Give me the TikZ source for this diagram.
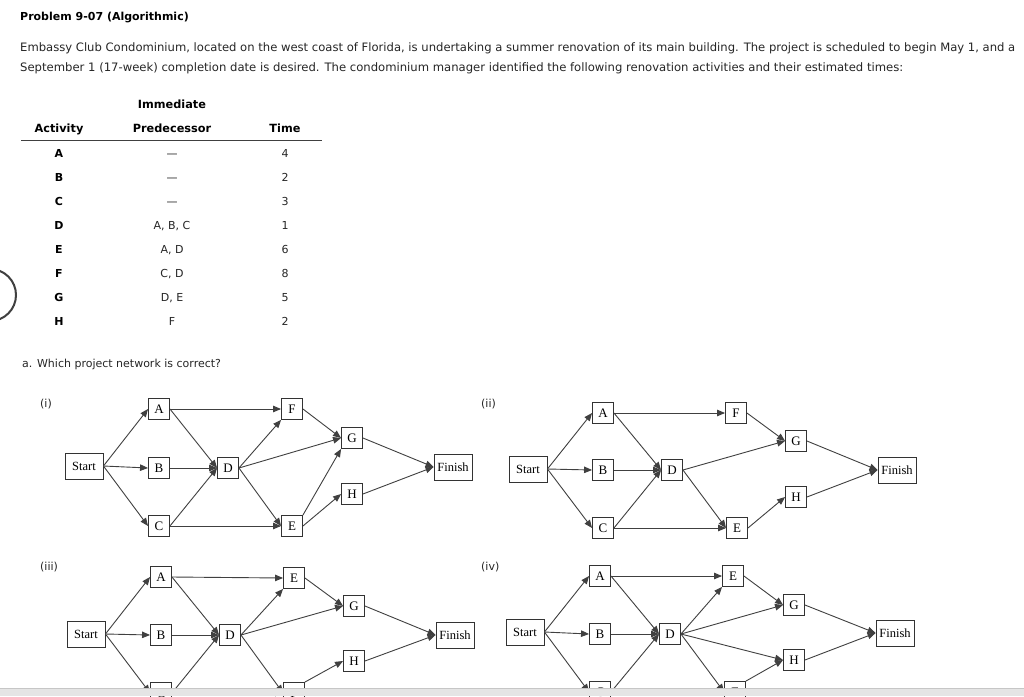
\documentclass[tikz,border=0pt]{standalone}
\usepackage{fontspec}
\setmainfont{DejaVu Sans}
\newfontfamily\boxfont{Liberation Serif}
\usetikzlibrary{arrows.meta}
\begin{document}
\begin{tikzpicture}[x=1pt,y=-1pt,
  txt/.style={anchor=base west, inner sep=0pt, font=\fontsize{11}{13}\selectfont, text=black!85},
  tc/.style={anchor=base, inner sep=0pt, font=\fontsize{11}{13}\selectfont, text=black!85},
  tb/.style={anchor=base, inner sep=0pt, font=\fontsize{11.3}{13}\selectfont\bfseries, text=black},
  act/.style={draw=black!80, fill=white, line width=0.9pt, minimum width=21pt, minimum height=21pt, inner sep=0pt, font=\boxfont\fontsize{13}{13}\selectfont},
  term/.style={act, minimum width=38pt, minimum height=26pt, font=\boxfont\fontsize{12.5}{13}\selectfont},
  arr/.style={draw=black!75, line width=0.9pt, -{Triangle[length=8pt,width=6.5pt]}},
]
\useasboundingbox (0,0) rectangle (1024,696);
\fill[white] (0,0) rectangle (1024,696);
\clip (0,0) rectangle (1024,696);

% header text
\node[txt, font=\fontsize{11}{13}\selectfont\bfseries, text=black] (title) at (20,20) {Problem 9-07 (Algorithmic)};
\node[txt] (l1) at (20,51) {\resizebox{995pt}{!}{Embassy Club Condominium, located on the west coast of Florida, is undertaking a summer renovation of its main building. The project is scheduled to begin May 1, and a}};
\node[txt] (l2) at (20,71) {\resizebox{883pt}{!}{September 1 (17-week) completion date is desired. The condominium manager identified the following renovation activities and their estimated times:}};

% circle at left edge
\draw[black!75, line width=2pt] (-10,295) circle[radius=26pt];

% table
\node[tb] (hImm) at (172,108) {Immediate};
\node[tb] (hAct) at (59,132) {Activity};
\node[tb] (hPre) at (172,132) {Predecessor};
\node[tb] (hTim) at (285,132) {Time};
\draw[black!75, line width=1pt] (21,140.5) -- (322,140.5);
\foreach \a/\p/\t [count=\i] in {A/---/4, B/---/2, C/---/3, D/{A, B, C}/1, E/{A, D}/6, F/{C, D}/8, G/{D, E}/5, H/F/2} {
  \node[tb, font=\fontsize{11}{12}\selectfont\bfseries] (ra\i) at (59,133.5+24*\i) {\a};
  \node[tc] (rp\i) at (172,133.5+24*\i) {\p};
  \node[tc] (rt\i) at (285,133.5+24*\i) {\t};
}
\node[txt] (q) at (22,367) {a. Which project network is correct?};

% labels
\node[txt] (lab1) at (40,407) {(i)};
\node[txt] (lab2) at (481,407) {(ii)};
\node[txt] (lab3) at (40,570) {(iii)};
\node[txt] (lab4) at (481,570) {(iv)};

% network (i)
\node[term] (s1) at (84,466) {Start};
\node[act] (a1) at (159,409) {A};
\node[act] (b1) at (159,468) {B};
\node[act] (c1) at (159,526) {C};
\node[act] (d1) at (228,468) {D};
\node[act] (f1) at (292,409) {F};
\node[act] (e1) at (292,526) {E};
\node[act] (g1) at (352,438) {G};
\node[act] (h1) at (352,494) {H};
\node[term] (z1) at (453,467) {Finish};
\draw[arr] (s1.east) -- (a1.west);
\draw[arr] (s1.east) -- (b1.west);
\draw[arr] (s1.east) -- (c1.west);
\draw[arr] (a1.east) -- (f1.west);
\draw[arr] (a1.east) -- (d1.west);
\draw[arr] (b1.east) -- (d1.west);
\draw[arr] (c1.east) -- (d1.west);
\draw[arr] (c1.east) -- (e1.west);
\draw[arr] (d1.east) -- (f1.south west);
\draw[arr] (d1.east) -- (g1.west);
\draw[arr] (d1.east) -- (e1.west);
\draw[arr] (f1.east) -- (g1.west);
\draw[arr] (e1.north east) -- (g1.south west);
\draw[arr] (e1.east) -- (h1.west);
\draw[arr] (g1.east) -- (z1.west);
\draw[arr] (h1.east) -- (z1.west);

% network (ii)
\node[term] (s2) at (528,469) {Start};
\node[act] (a2) at (603,413) {A};
\node[act] (b2) at (603,470) {B};
\node[act] (c2) at (603,528) {C};
\node[act] (d2) at (672,470) {D};
\node[act] (f2) at (736,413) {F};
\node[act] (e2) at (737,528) {E};
\node[act] (g2) at (796,441) {G};
\node[act] (h2) at (796,497) {H};
\node[term] (z2) at (897,470) {Finish};
\draw[arr] (s2.east) -- (a2.west);
\draw[arr] (s2.east) -- (b2.west);
\draw[arr] (s2.east) -- (c2.west);
\draw[arr] (a2.east) -- (f2.west);
\draw[arr] (a2.east) -- (d2.west);
\draw[arr] (b2.east) -- (d2.west);
\draw[arr] (c2.east) -- (d2.west);
\draw[arr] (c2.east) -- (e2.west);
\draw[arr] (d2.east) -- (g2.west);
\draw[arr] (d2.east) -- (e2.west);
\draw[arr] (f2.east) -- (g2.west);
\draw[arr] (e2.east) -- (h2.west);
\draw[arr] (g2.east) -- (z2.west);
\draw[arr] (h2.east) -- (z2.west);

% network (iii)
\node[term] (s3) at (86,634) {Start};
\node[act] (a3) at (161,577) {A};
\node[act] (b3) at (161,635) {B};
\node[act] (c3) at (161,693) {C};
\node[act] (d3) at (230,635) {D};
\node[act] (e3) at (294,578) {E};
\node[act] (f3) at (294,693) {F};
\node[act] (g3) at (354,606) {G};
\node[act] (h3) at (354,661) {H};
\node[term] (z3) at (455,635) {Finish};
\draw[arr] (s3.east) -- (a3.west);
\draw[arr] (s3.east) -- (b3.west);
\draw[arr] (s3.east) -- (c3.west);
\draw[arr] (a3.east) -- (e3.west);
\draw[arr] (a3.east) -- (d3.west);
\draw[arr] (b3.east) -- (d3.west);
\draw[arr] (c3.east) -- (d3.west);
\draw[arr] (c3.east) -- (f3.west);
\draw[arr] (d3.east) -- (e3.south west);
\draw[arr] (d3.east) -- (g3.west);
\draw[arr] (d3.east) -- (f3.west);
\draw[arr] (e3.east) -- (g3.west);
\draw[arr] (f3.north east) -- (h3.west);
\draw[arr] (g3.east) -- (z3.west);
\draw[arr] (h3.east) -- (z3.west);

% network (iv)
\node[term] (s4) at (525,632) {Start};
\node[act] (a4) at (600,576) {A};
\node[act] (b4) at (600,634) {B};
\node[act] (c4) at (600,692) {C};
\node[act] (d4) at (670,634) {D};
\node[act] (e4) at (733,576) {E};
\node[act] (f4) at (735,692) {F};
\node[act] (g4) at (794,605) {G};
\node[act] (h4) at (794,660) {H};
\node[term] (z4) at (895,633) {Finish};
\draw[arr] (s4.east) -- (a4.west);
\draw[arr] (s4.east) -- (b4.west);
\draw[arr] (s4.east) -- (c4.west);
\draw[arr] (a4.east) -- (e4.west);
\draw[arr] (a4.east) -- (d4.west);
\draw[arr] (b4.east) -- (d4.west);
\draw[arr] (c4.east) -- (d4.west);
\draw[arr] (c4.east) -- (f4.west);
\draw[arr] (d4.east) -- (e4.south west);
\draw[arr] (d4.east) -- (g4.west);
\draw[arr] (d4.east) -- (h4.west);
\draw[arr] (d4.east) -- (f4.west);
\draw[arr] (e4.east) -- (g4.west);
\draw[arr] (f4.north east) -- (h4.west);
\draw[arr] (g4.east) -- (z4.west);
\draw[arr] (h4.east) -- (z4.west);

% bottom bar
\fill[gray!20] (0,688) rectangle (1024,696);
\draw[gray!45, line width=0.8pt] (0,688) -- (1024,688);
\end{tikzpicture}
\end{document}
